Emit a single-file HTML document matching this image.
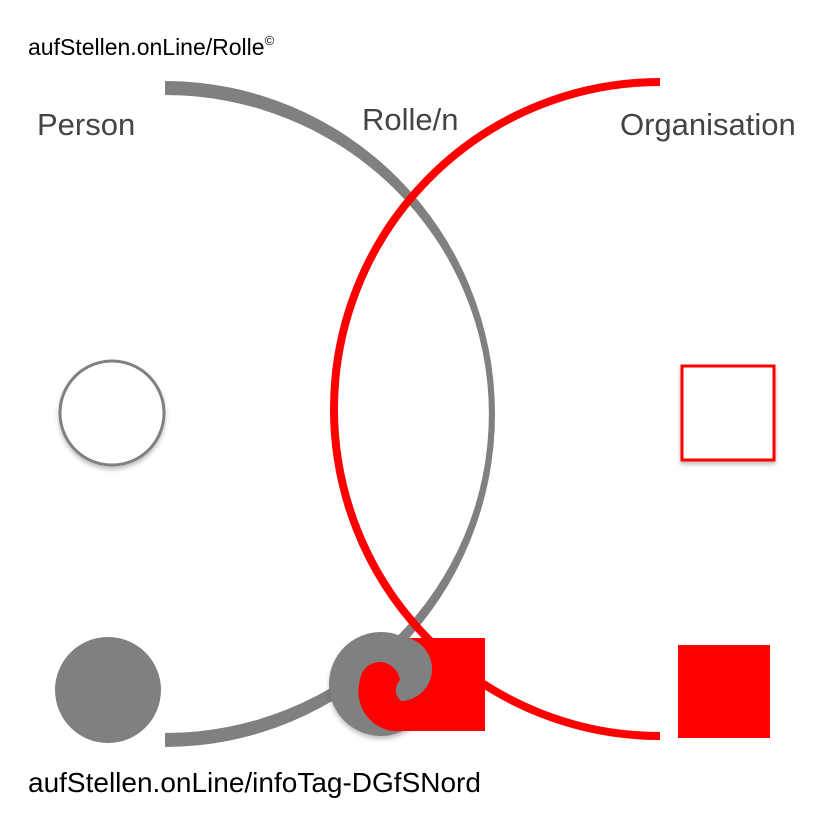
<!DOCTYPE html>
<html><head><style>body{margin:0;background:#fff}svg{display:block}</style></head><body>
<svg width="826" height="826" viewBox="0 0 826 826" xmlns="http://www.w3.org/2000/svg">
<defs><filter id="sh" x="-20%" y="-20%" width="140%" height="140%"><feDropShadow dx="0" dy="3" stdDeviation="2" flood-color="#000" flood-opacity="0.25"/></filter></defs>
<text x="28" y="55" font-family="Liberation Sans, sans-serif" font-size="23" fill="#000">aufStellen.onLine/Rolle<tspan font-size="13" dy="-10">©</tspan></text>
<text x="37" y="135" font-family="Liberation Sans, sans-serif" font-size="31" fill="#444">Person</text>
<text x="362" y="130" font-family="Liberation Sans, sans-serif" font-size="31" fill="#444">Rolle/n</text>
<text x="620" y="135" font-family="Liberation Sans, sans-serif" font-size="31" fill="#444">Organisation</text>
<path d="M165,81 A330,333 0 0 1 165,747 L165,733 A324,319 0 0 0 165,95 Z" fill="#808080"/>
<path d="M660,82 A326,327 0 0 0 660,736" fill="none" stroke="#ff0000" stroke-width="8"/>
<circle cx="112" cy="413" r="52" fill="#fff" stroke="#808080" stroke-width="3" filter="url(#sh)"/>
<rect x="682" y="366" width="92" height="94" fill="#fff" stroke="#ff0000" stroke-width="3" filter="url(#sh)"/>
<circle cx="108" cy="690" r="53" fill="#808080"/>
<rect x="678" y="645" width="92" height="93" fill="#ff0000"/>
<circle cx="381" cy="684" r="52" fill="#808080" filter="url(#sh)"/>
<rect x="392" y="638" width="93" height="93" fill="#ff0000"/>
<circle cx="400" cy="669" r="32" fill="#808080"/>
<path d="M380,662 A21,21 0 0 1 400,680 A13,13 0 0 0 420,700 L420,731 L392,731 A40,40 0 0 1 360,680 A20,20 0 0 1 380,662 Z" fill="#ff0000"/>
<text x="28" y="792" font-family="Liberation Sans, sans-serif" font-size="28" fill="#000">aufStellen.onLine/infoTag-DGfSNord</text>
</svg>
</body></html>
